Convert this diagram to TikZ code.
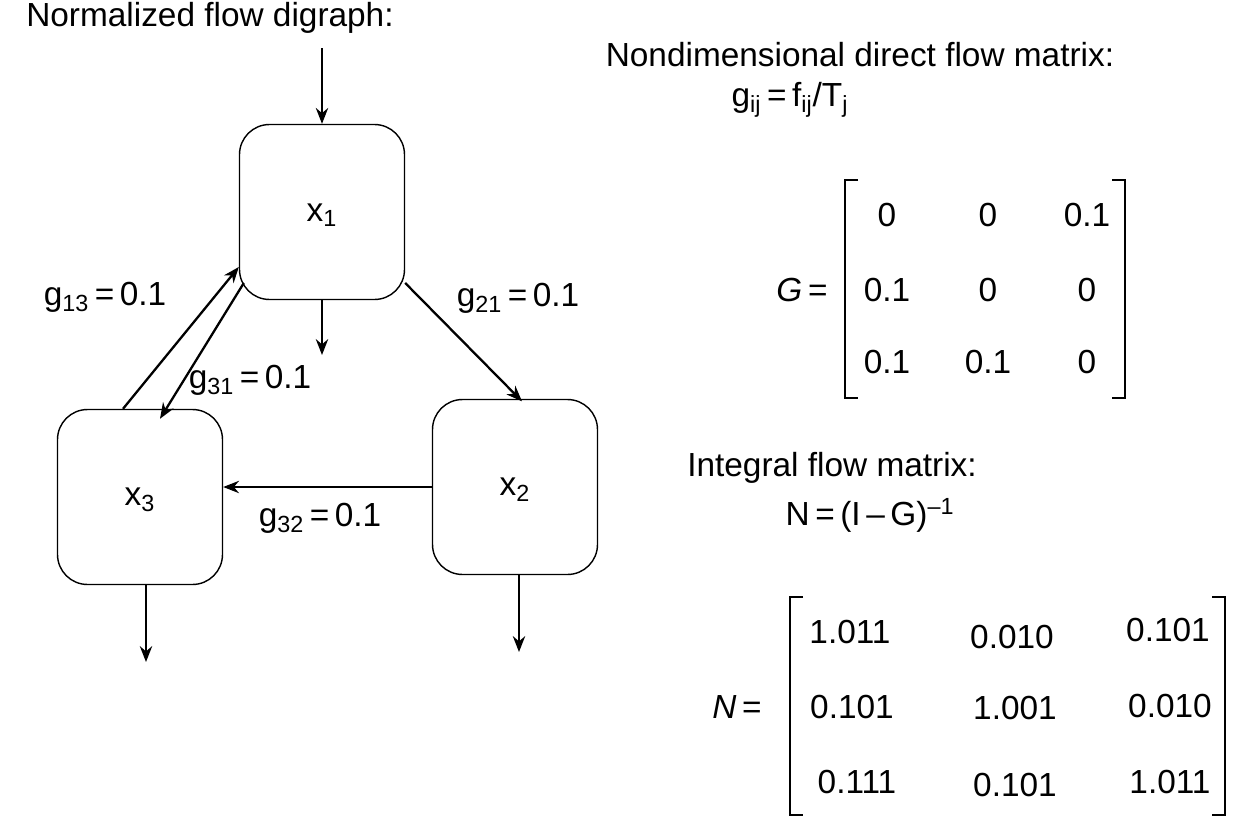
\documentclass[tikz,border=0pt]{standalone}
\usepackage{fontspec}
\setmainfont{Liberation Sans}
\usetikzlibrary{arrows.meta}
\begin{document}
\begin{tikzpicture}[x=0.02cm,y=-0.02cm,
    box/.style={draw, thick, rounded corners=0.6cm, minimum width=3.3cm, minimum height=3.5cm},
    arr/.style={-{Stealth[length=9pt,width=7pt]}, line width=1.3pt},
    txt/.style={font=\fontsize{19}{22}\selectfont, inner sep=0pt},
    brk/.style={line width=1pt}
]
\useasboundingbox (0,0) rectangle (1234,818);
\node[txt] (title) at (210,18) {Normalized flow digraph:};

% boxes
\node[box] (x1) at (322,212) {};
\node[box] (x3) at (140,497) {};
\node[box] (x2) at (515,487) {};
\node[txt] (l1) at (322,215) {x\textsubscript{1}};
\node[txt] (l3) at (140,500) {x\textsubscript{3}};
\node[txt] (l2) at (515,490) {x\textsubscript{2}};

% free ends
\coordinate (in1) at (322,48);
\coordinate (out1) at (322,355);
\coordinate (out3) at (146,662);
\coordinate (out2) at (519,652);

\draw[arr] (in1) -- (x1.north);
\draw[arr] (x1.south) -- (out1);
\draw[arr] (x3.south -| out3) -- (out3);
\draw[arr] (x2.south -| out2) -- (out2);
\draw[arr] ([xshift=-0.34cm]x3.north) -- ([yshift=-1.1cm]x1.west);
\draw[arr] ([xshift=0.1cm,yshift=-1.42cm]x1.west) -- ([xshift=0.4cm,yshift=-0.2cm]x3.north);
\draw[arr] ([yshift=-1.42cm]x1.east) -- ([xshift=0.14cm,yshift=-0.05cm]x2.north);
\draw[arr] (x2.west) -- (x2.west -| x3.east);

% labels
\node[txt] (g13) at (105,297) {g\textsubscript{13}\,=\,0.1};
\node[txt] (g31) at (250,380) {g\textsubscript{31}\,=\,0.1};
\node[txt] (g21) at (518,298) {g\textsubscript{21}\,=\,0.1};
\node[txt] (g32) at (320,518) {g\textsubscript{32}\,=\,0.1};

% right side
\node[txt] (t2) at (860,55) {Nondimensional direct flow matrix:};
\node[txt] (gij) at (790,100) {g\textsubscript{ij}\,=\,f\textsubscript{ij}/T\textsubscript{j}};
\node[txt] (G) at (802,290) {\textit{G}\,=};
\draw[brk] (858,180) -- (845,180) -- (845,398) -- (858,398);
\draw[brk] (1112,180) -- (1125,180) -- (1125,398) -- (1112,398);
\foreach \r/\y/\a/\b/\c in {1/215/0/0/0.1, 2/290/0.1/0/0, 3/362/0.1/0.1/0}{
  \node[txt] (g\r a) at (887,\y) {\a};
  \node[txt] (g\r b) at (988,\y) {\b};
  \node[txt] (g\r c) at (1087,\y) {\c};
}
\node[txt] (t3) at (832,468) {Integral flow matrix:};
\node[txt] (neq) at (870,515) {N\,=\,(I\,–\,G)\textsuperscript{–1}};
\node[txt] (N) at (737,707) {\textit{N}\,=};
\draw[brk] (803,597) -- (790,597) -- (790,815) -- (803,815);
\draw[brk] (1212,597) -- (1225,597) -- (1225,815) -- (1212,815);
\node[txt] (n11) at (850,632) {1.011};
\node[txt] (n12) at (1012,637) {0.010};
\node[txt] (n13) at (1168,630) {0.101};
\node[txt] (n21) at (852,707) {0.101};
\node[txt] (n22) at (1015,708) {1.001};
\node[txt] (n23) at (1170,706) {0.010};
\node[txt] (n31) at (857,782) {0.111};
\node[txt] (n32) at (1015,785) {0.101};
\node[txt] (n33) at (1170,782) {1.011};
\end{tikzpicture}
\end{document}
